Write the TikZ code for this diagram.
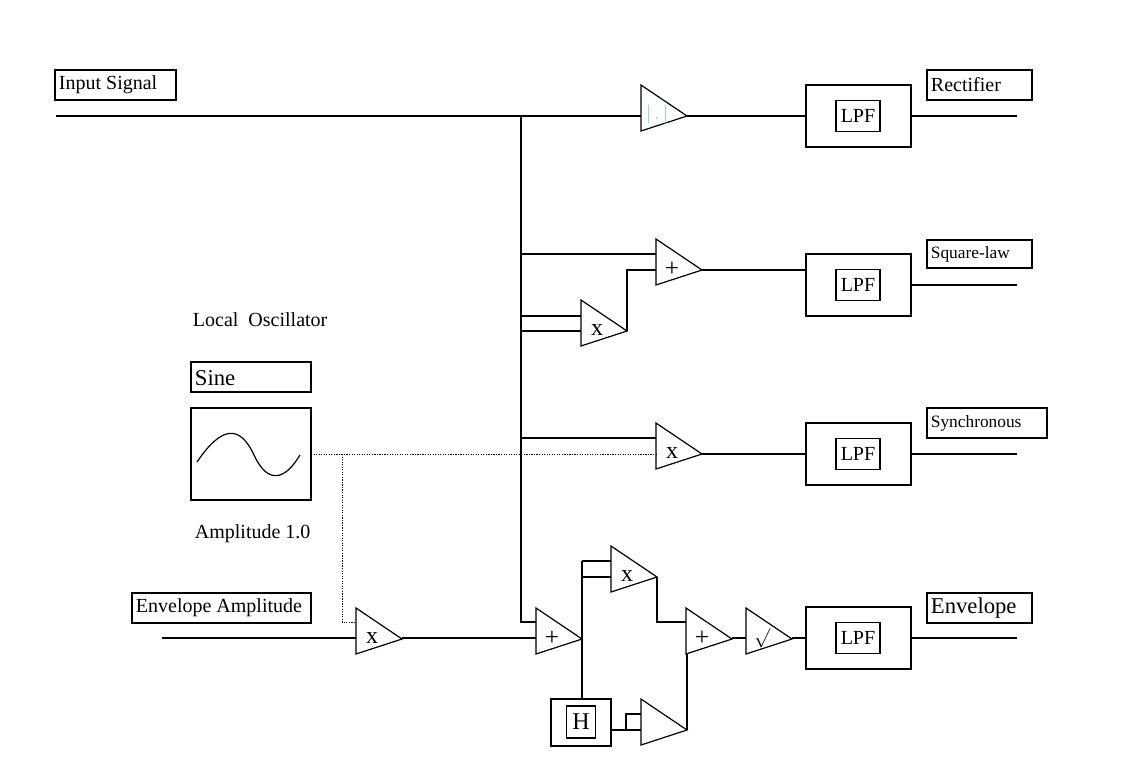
\documentclass[tikz,border=0pt]{standalone}
\usepackage{fontspec}
\setmainfont{Liberation Serif}
\usetikzlibrary{positioning}
\newcommand{\bigt}{\fontsize{15}{17}\selectfont}
\newcommand{\smallt}{\fontsize{13}{15}\selectfont}
\tikzset{
  every path/.style={line width=0.9pt},
  wire/.style={},
  dot/.style={densely dotted, line width=0.5pt},
  tri/.style={draw, fill=white},
}
\begin{document}
\begin{tikzpicture}[x=0.75pt,y=-0.75pt]
\useasboundingbox (0,0) rectangle (1129,765);
% label boxes
\draw (55,70) rectangle (176,100); \node[anchor=west, inner sep=1pt] (lin) at (57,85) {\bigt Input Signal};
\draw (927,70) rectangle (1032,100); \node[anchor=west, inner sep=1pt] (lrect) at (929,85) {\bigt Rectifier};
\draw (927,240) rectangle (1032,268); \node[anchor=west, inner sep=1pt] (lsq) at (929,254) {\smallt Square-law};
\draw (927,408) rectangle (1047,438); \node[anchor=west, inner sep=1pt] (lsyn) at (929,423) {\smallt Synchronous};
\draw (927,593) rectangle (1032,623); \node[anchor=west, inner sep=1pt] (lenv) at (929,608) {\fontsize{17}{19}\selectfont Envelope};
\draw (132,593) rectangle (311,623); \node[anchor=west, inner sep=1pt] (lea) at (134,608) {\bigt Envelope Amplitude};
\draw (191,362) rectangle (311,392); \node[anchor=west, inner sep=1pt] (lsine) at (193,378) {\fontsize{17}{19}\selectfont Sine};
\node[anchor=west, inner sep=1pt] (losc) at (191,320) {\bigt Local\ \ Oscillator};
\node[anchor=west, inner sep=1pt] (lamp) at (193,534) {\bigt Amplitude 1.0};
% oscillator
\draw (191,408) rectangle (311,500);
\draw (197,462) .. controls (222,425) and (240,425) .. (254,455) .. controls (268,485) and (285,480) .. (300,455);
% LPF blocks
\foreach \n/\y in {a/116,b/285,c/454,d/638}{
  \draw (806,\y-31) rectangle (911,\y+31);
  \node[draw, minimum width=33pt, minimum height=23pt, inner sep=1pt] (lpf\n) at (858,\y) {\bigt LPF};
  \draw[wire] (911,\y) -- (1017,\y);
}
% triangles: left x, center y
\foreach \n/\x/\y/\t in {t1/641/108/{\color{cyan!60}\Large$|\,.\,|$},t2/656/262/\fontsize{19}{20}\selectfont +,t3/581/323/\fontsize{18}{20}\selectfont x,t4/656/446/\fontsize{18}{20}\selectfont x,
  t5/356/631/\fontsize{18}{20}\selectfont x,t6/536/631/\fontsize{19}{20}\selectfont +,t7/611/569/\fontsize{18}{20}\selectfont x,t8/686/631/\fontsize{19}{20}\selectfont +,t9/746/631/\Large$\surd$,t10/641/722/{}}{
  \draw[tri] (\x,\y-23) -- (\x+46,\y+8) -- (\x,\y+23) -- cycle;
  \node (\n) at (\x+16,\y+7) {\t};
}
% input bus
\draw[wire] (56,116) -- (641,116);
\draw[wire] (687,116) -- (806,116);
\draw[wire] (521,116) -- (521,622) -- (536,622);
% square law
\draw[wire] (521,254) -- (656,254);
\draw[wire] (521,316) -- (581,316);
\draw[wire] (521,331) -- (581,331);
\draw[wire] (627,331) -- (627,270) -- (656,270);
\draw[wire] (702,270) -- (806,270);
% synchronous
\draw[wire] (521,438) -- (656,438);
\draw[wire] (702,454) -- (806,454);
\draw[dot] (311,454) -- (656,454);
\draw[dot] (342,454) -- (342,622) -- (356,622);
% envelope
\draw[wire] (162,638) -- (356,638);
\draw[wire] (402,638) -- (536,638);
\draw[wire] (582,561) -- (611,561);
\draw[wire] (582,561) -- (582,699);
\draw[wire] (582,577) -- (611,577);
\draw[wire] (657,577) -- (657,622) -- (686,622);
\draw[wire] (732,638) -- (746,638);
\draw[wire] (792,638) -- (806,638);
\draw (551,699) rectangle (611,746);
\node[draw, minimum width=22pt, minimum height=24pt, inner sep=1pt] (hb) at (581,722) {\fontsize{18}{20}\selectfont H};
\draw[wire] (611,730) -- (641,730);
\draw[wire] (626,730) -- (626,714) -- (641,714);
\draw[wire] (687,730) -- (687,654);
\end{tikzpicture}
\end{document}
